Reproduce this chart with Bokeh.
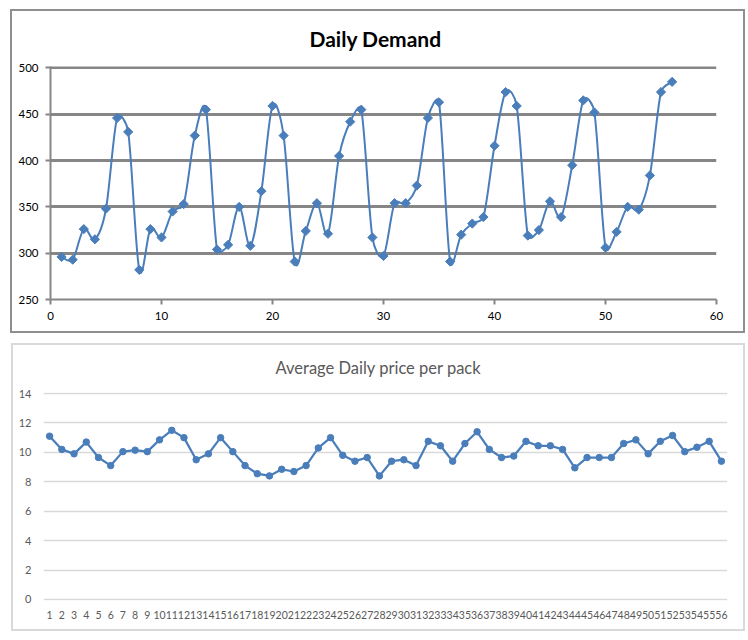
import numpy as np
from bokeh.plotting import figure
from bokeh.models import Range1d, FactorRange, FixedTicker
from bokeh.embed import file_html
from bokeh.resources import INLINE

# ---- data ----
days = list(range(1, 57))
demand = [296, 293, 326, 315, 348, 446, 431, 282, 326, 317,
          345, 353, 427, 455, 304, 309, 350, 308, 367, 459,
          427, 291, 324, 354, 321, 405, 442, 455, 317, 297,
          354, 354, 373, 446, 463, 291, 320, 332, 339, 416,
          474, 459, 319, 325, 356, 339, 395, 465, 452, 306,
          323, 350, 347, 384, 474, 485]
price = [11.1, 10.2, 9.9, 10.7, 9.65, 9.1, 10.05, 10.15, 10.05, 10.85,
         11.5, 11.0, 9.5, 9.9, 11.0, 10.05, 9.1, 8.55, 8.4, 8.85,
         8.7, 9.1, 10.3, 11.0, 9.8, 9.4, 9.65, 8.4, 9.4, 9.5,
         9.1, 10.75, 10.45, 9.4, 10.6, 11.4, 10.2, 9.65, 9.75, 10.75,
         10.45, 10.45, 10.2, 8.95, 9.65, 9.65, 9.65, 10.6, 10.85, 9.9,
         10.75, 11.15, 10.05, 10.35, 10.75, 9.4]
demand_xticks = [0, 10, 20, 30, 40, 50, 60]
demand_yticks = [250, 300, 350, 400, 450, 500]
price_yticks = [0, 2, 4, 6, 8, 10, 12, 14]
price_labels = [str(d) for d in days]

FONT = "Lato"
BLUE = "#4a7ebb"

# ---- top chart: Daily Demand (smoothed line) ----
X0, X1, Y0, Y1 = 0, 60, 250, 501.6
W1, H1, BL1, BR1, BT1, BB1 = 735, 324, 38, 31, 55, 36
FW, FH = W1 - BL1 - BR1, H1 - BT1 - BB1
p1 = figure(width=W1, height=H1, x_range=Range1d(X0, X1), y_range=Range1d(Y0, Y1),
            output_backend="svg", toolbar_location=None,
            min_border_left=BL1, min_border_right=BR1, min_border_top=BT1, min_border_bottom=BB1)
p1.margin = (9, 0, 0, 10)
p1.title.text = "Daily Demand"
p1.title.align = "left"
p1.title.vertical_align = "top"
p1.title.offset = 259
p1.title.text_font = FONT
p1.title.text_font_style = "bold"
p1.title.text_font_size = "21px"
p1.title.text_color = "#000000"
p1.title.standoff = 27
p1.outline_line_color = None
p1.background_fill_color = "white"
p1.border_fill_color = "white"
p1.xgrid.visible = False
p1.ygrid.grid_line_color = "#868686"
p1.ygrid.grid_line_width = 3
p1.xaxis.ticker = FixedTicker(ticks=demand_xticks)
p1.yaxis.ticker = FixedTicker(ticks=demand_yticks)
for ax in (p1.xaxis[0], p1.yaxis[0]):
    ax.axis_line_color = "#868686"
    ax.axis_line_width = 2
    ax.major_tick_line_color = "#868686"
    ax.major_tick_line_width = 2
    ax.major_tick_out = 5
    ax.major_tick_in = 0
    ax.minor_tick_line_color = None
    ax.major_label_text_font = FONT
    ax.major_label_text_font_size = "11.5px"
    ax.major_label_text_color = "#000000"
    ax.major_label_standoff = 7

# Excel-style smoothing: Bezier control points, clamped in screen space
sx = FW / (X1 - X0)
sy = FH / (Y1 - Y0)
x = np.array(days, dtype=float)
y = np.array(demand, dtype=float)
n = len(x)
cx0, cy0, cx1, cy1 = [], [], [], []
for k in range(n - 1):
    a = max(k - 1, 0)
    b = min(k + 2, n - 1)
    q0 = np.array([x[a] * sx, y[a] * sy])
    q1 = np.array([x[k] * sx, y[k] * sy])
    q2 = np.array([x[k + 1] * sx, y[k + 1] * sy])
    q3 = np.array([x[b] * sx, y[b] * sy])
    d02 = np.linalg.norm(q2 - q0)
    d12 = np.linalg.norm(q2 - q1)
    d13 = np.linalg.norm(q3 - q1)
    f0 = 1 / 6 if d02 / 6 < d12 / 2 else (d12 / d02 / 2 if d02 > 0 else 0)
    f1 = 1 / 6 if d13 / 6 < d12 / 2 else (d12 / d13 / 2 if d13 > 0 else 0)
    c1 = q1 + (q2 - q0) * f0
    c2 = q2 - (q3 - q1) * f1
    cx0.append(c1[0] / sx); cy0.append(c1[1] / sy)
    cx1.append(c2[0] / sx); cy1.append(c2[1] / sy)
p1.bezier(x0=x[:-1], y0=y[:-1], x1=x[1:], y1=y[1:], cx0=cx0, cy0=cy0, cx1=cx1, cy1=cy1,
          line_color=BLUE, line_width=2, line_cap="round")
p1.scatter(x=days, y=demand, marker="square", size=6.5, angle=np.pi / 4,
           fill_color=BLUE, line_color=BLUE)
p1.styles = {"border": "2px solid #8f8f8f"}

# ---- bottom chart: Average Daily price per pack ----
W2, H2, BL2, BR2, BT2, BB2 = 734, 288, 30, 20, 47, 33
p2 = figure(width=W2, height=H2, x_range=FactorRange(factors=price_labels, range_padding=0),
            y_range=Range1d(-0.07, 14.07),
            output_backend="svg", toolbar_location=None,
            min_border_left=BL2, min_border_right=BR2, min_border_top=BT2, min_border_bottom=BB2)
p2.margin = (10, 0, 0, 11)
p2.title.text = "Average Daily price per pack"
p2.title.align = "left"
p2.title.vertical_align = "top"
p2.title.offset = 232
p2.title.text_font = FONT
p2.title.text_font_style = "normal"
p2.title.text_font_size = "16.5px"
p2.title.text_color = "#595959"
p2.title.standoff = 25
p2.outline_line_color = None
p2.xgrid.visible = False
p2.ygrid.grid_line_color = "#d9d9d9"
p2.ygrid.grid_line_width = 1.5
p2.yaxis.ticker = FixedTicker(ticks=price_yticks)
for ax in (p2.xaxis[0], p2.yaxis[0]):
    ax.axis_line_color = None
    ax.major_tick_line_color = None
    ax.minor_tick_line_color = None
    ax.major_tick_out = 0
    ax.major_tick_in = 0
    ax.major_label_text_font = FONT
    ax.major_label_text_font_size = "11px"
    ax.major_label_text_color = "#595959"
p2.xaxis.major_label_text_font_size = "10.5px"
p2.yaxis.major_label_standoff = 12
p2.xaxis.major_label_standoff = 10
p2.line(x=price_labels, y=price, line_color=BLUE, line_width=2.25)
p2.scatter(x=price_labels, y=price, marker="circle", size=6.5,
           fill_color=BLUE, line_color=BLUE)
p2.styles = {"border": "2px solid #d9d9d9"}

open("out.html", "w").write(file_html([p1, p2], INLINE))
